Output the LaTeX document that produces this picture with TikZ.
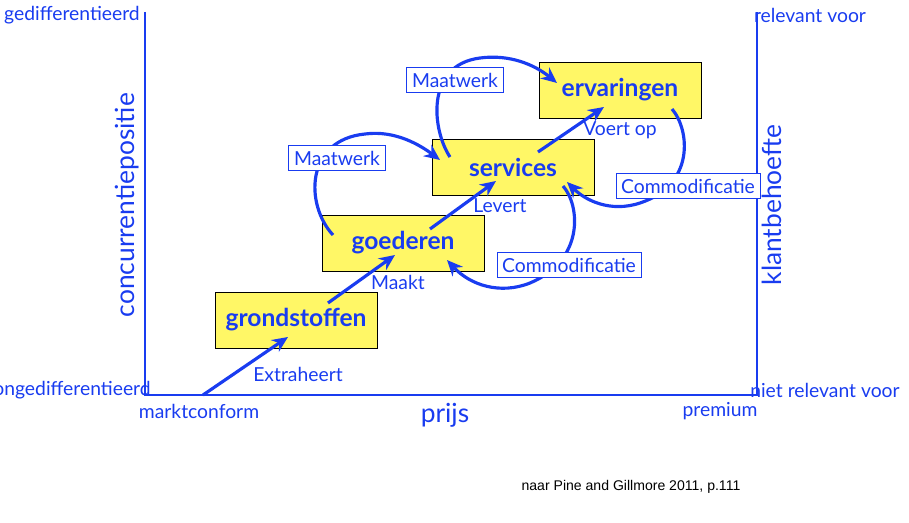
\documentclass[tikz,border=0pt]{standalone}
\usepackage{fontspec}
\setmainfont{Lato}
\newfontfamily\notefont{Liberation Sans}
\usetikzlibrary{arrows.meta}
\definecolor{axisblue}{RGB}{25,60,240}
\tikzset{stage/.style={draw=black, fill=yellow!60, minimum width=3.24cm, minimum height=1.12cm, inner sep=0pt, text=axisblue, font=\fontsize{14}{16}\selectfont\bfseries}}
\tikzset{tag/.style={draw=axisblue, fill=white, text=axisblue, font=\fontsize{11}{13}\selectfont, inner sep=3pt}}
\tikzset{axlabel/.style={text=axisblue, font=\fontsize{11}{13}\selectfont}}
\tikzset{stagearc/.style={-{Stealth[length=9pt,width=8pt]}, axisblue, line width=1.8pt}}
\tikzset{looparc/.style={-{Stealth[length=9pt,width=8pt]}, axisblue, line width=1.8pt}}

\begin{document}
\begin{tikzpicture}[x=0.02cm, y=-0.02cm]
\useasboundingbox (0,0) rectangle (909,523);
% assen
\coordinate (tl) at (145,12);
\coordinate (bl) at (145,395);
\coordinate (br) at (757,395);
\coordinate (tr) at (757,12);
\draw[axisblue, line width=1.2pt] (tl)--(bl)--(br)--(tr);
\node[axlabel] (gd) at (72,15){gedifferentieerd};
\node[axlabel] (ogd) at (72,390){ongedifferentieerd};
\node[axlabel] (rv) at (810,15){relevant voor};
\node[axlabel] (nrv) at (825,390){niet relevant voor};
\node[axlabel] (mc) at (199,411){marktconform};
\node[axlabel] (pr) at (720,411){premium};
\node[axlabel, font=\fontsize{15}{17}\selectfont] (prijs) at (445,415){prijs};
\node[axlabel, font=\fontsize{15}{17}\selectfont, rotate=90] (cp) at (127,205){concurrentiepositie};
\node[axlabel, font=\fontsize{15}{17}\selectfont, rotate=90] (kb) at (772,205){klantbehoefte};

% stappen
\node[stage] (gr) at (296,320){grondstoffen};
\node[stage] (go) at (403,243){goederen};
\node[stage] (se) at (513,167){services};
\node[stage] (er) at (620,90){ervaringen};

\coordinate (s0) at (203,395);
\coordinate (s1) at (288,337);
\coordinate (s2) at (328,303);
\coordinate (s3) at (395,255);
\coordinate (s4) at (430,229);
\coordinate (s5) at (496,181);
\coordinate (s6) at (538,152);
\coordinate (s7) at (604,107);
\draw[stagearc] (s0)--(s1);
\draw[stagearc] (s2)--(s3);
\draw[stagearc] (s4)--(s5);
\draw[stagearc] (s6)--(s7);
\node[axlabel] (ex) at (298,374){Extraheert};
\node[axlabel] (ma) at (398,282){Maakt};
\node[axlabel] (le) at (500,206){Levert};
\node[axlabel] (vo) at (620,130){Voert op};

% lussen
\coordinate (m1a) at (333,235);
\coordinate (m1b) at (440,160);
\coordinate (m2a) at (450,157);
\coordinate (m2b) at (557,83);
\coordinate (c1a) at (563,186);
\coordinate (c1b) at (447,260);
\coordinate (c2a) at (672,109);
\coordinate (c2b) at (567,182);
\draw[looparc] (m1a) .. controls (305,205) and (305,140) .. (365,134) .. controls (395,130) and (420,145) .. (m1b);
\draw[looparc] (m2a) .. controls (432,130) and (425,65) .. (480,58) .. controls (510,54) and (535,65) .. (m2b);
\draw[looparc] (c1a) .. controls (580,205) and (585,260) .. (530,283) .. controls (500,295) and (470,285) .. (c1b);
\draw[looparc] (c2a) .. controls (690,130) and (695,185) .. (640,203) .. controls (610,213) and (585,200) .. (c2b);
\node[tag] (mw1) at (337,158){Maatwerk};
\node[tag] (mw2) at (455,80){Maatwerk};
\node[tag] (cm1) at (569,265){Commodificatie};
\node[tag] (cm2) at (688,186){Commodificatie};

\node[font=\notefont\fontsize{8}{10}\selectfont] (bron) at (631,487){naar Pine and Gillmore 2011, p.111};
\end{tikzpicture}
\end{document}
